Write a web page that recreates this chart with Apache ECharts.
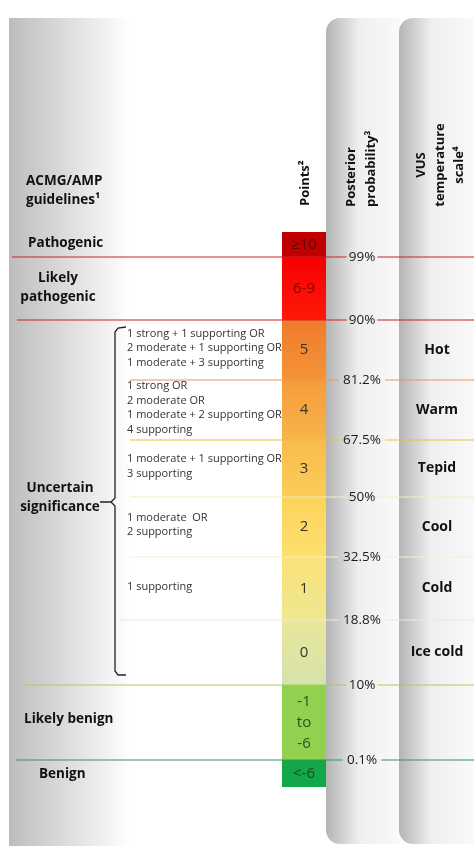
<!DOCTYPE html>
<html>
<head>
<meta charset="utf-8" />
<script src="https://cdn.jsdelivr.net/npm/echarts@6/dist/echarts.min.js"></script>
<style>html,body{margin:0;padding:0;background:#fff}</style>
</head>
<body>
<div id="divChart" style="width:474px;height:846px;"></div>
<script>
// points bands, top to bottom
let bandLabels = ['≥10', '6-9', '5', '4', '3', '2', '1', '0', '-1\nto\n-6', '<-6'];
let bandHeights = [25, 63, 60, 60, 57, 60, 63, 65, 75, 27];
let bandTop = ['#c00000', '#f50000', '#ef7a2e', '#f59b3c', '#f9bb4c', '#fcd35c', '#fbe27a', '#e8e79a', '#92d050', '#12a84a'];
let bandBottom = ['#c00000', '#ff1a0a', '#f59437', '#f8b449', '#fbcd58', '#fde06e', '#eee792', '#d6e2ac', '#92d050', '#12a84a'];
let bandText = ['#5c0000', '#8a0000', '#333', '#333', '#333', '#333', '#333', '#333', '#1c5a1c', '#1c4a1c'];
// posterior probability at the bottom edge of each band
let probLabels = ['99%', '90%', '81.2%', '67.5%', '50%', '32.5%', '18.8%', '10%', '0.1%'];
let lineColors = ['#d42020', '#d42020', '#e9955a', '#e4c43c', '#f1eec4', '#f3f0d0', '#e6eed2', '#a6d060', '#2f9a5a'];
let lineStart = [12, 17, 130, 130, 130, 130, 120, 23, 16];
let vusLabels = ['Hot', 'Warm', 'Tepid', 'Cool', 'Cold', 'Ice cold'];
let criteria = [
  '', '',
  '1 strong + 1 supporting OR\n2 moderate + 1 supporting OR\n1 moderate + 3 supporting',
  '1 strong OR\n2 moderate OR\n1 moderate + 2 supporting OR\n4 supporting',
  '1 moderate + 1 supporting OR\n3 supporting',
  '1 moderate  OR\n2 supporting',
  '1 supporting',
  '', '', ''
];

let total = bandHeights.reduce((a, b) => a + b, 0);
let chart = echarts.init(document.getElementById('divChart'));
let font = '"Open Sans", Calibri, sans-serif';

let series = bandLabels.map(function (lab, i) {
  return {
    type: 'bar', stack: 'p', barWidth: '100%', silent: true,
    data: [bandHeights[i]],
    itemStyle: {
      color: { type: 'linear', x: 0, y: 0, x2: 0, y2: 1,
        colorStops: [{ offset: 0, color: bandTop[i] }, { offset: 1, color: bandBottom[i] }] }
    },
    label: { show: true, position: 'inside', formatter: lab, color: bandText[i],
      fontSize: 15, fontFamily: font, lineHeight: 21 }
  };
});

chart.setOption({
  animation: false,
  grid: { left: 282, width: 44, top: 232, height: 555 },
  xAxis: { type: 'category', data: ['Points'], show: false },
  yAxis: { type: 'value', min: 0, max: total, inverse: true, show: false },
  series: series
});

function py(v) { return chart.convertToPixel({ yAxisIndex: 0 }, v); }
let cum = [0];
bandHeights.forEach(function (h, i) { cum.push(cum[i] + h); });

let g = [];
function grad(stops) {
  return { type: 'linear', x: 0, y: 0, x2: 1, y2: 0, colorStops: stops };
}
// background columns
g.push({ type: 'rect', z: -10, shape: { x: 9, y: 18, width: 320, height: 828 },
  style: { fill: grad([{ offset: 0, color: '#bdbdbd' }, { offset: 0.38, color: '#ffffff' }, { offset: 1, color: '#ffffff' }]) } });
g.push({ type: 'rect', z: -9, shape: { x: 326, y: 18, width: 74, height: 826, r: [14, 0, 0, 14] },
  style: { fill: grad([{ offset: 0, color: '#b4b4b4' }, { offset: 0.45, color: '#efefef' }, { offset: 1, color: '#fafafa' }]) } });
g.push({ type: 'rect', z: -8, shape: { x: 399, y: 18, width: 80, height: 826, r: [14, 0, 0, 14] },
  style: { fill: grad([{ offset: 0, color: '#b4b4b4' }, { offset: 0.4, color: '#efefef' }, { offset: 1, color: '#fafafa' }]) } });

// boundary lines and posterior probability labels
probLabels.forEach(function (p, i) {
  let y = py(cum[i + 1]);
  let w = p.length * 7.6;
  g.push({ type: 'line', z: 5, shape: { x1: lineStart[i], y1: y, x2: 362 - w / 2 - 4, y2: y },
    style: { stroke: lineColors[i], lineWidth: 1.2 } });
  g.push({ type: 'line', z: 5, shape: { x1: 362 + w / 2 + 4, y1: y, x2: 474, y2: y },
    style: { stroke: lineColors[i], lineWidth: 1.2 } });
  g.push({ type: 'text', z: 6, x: 362, y: y, style: { text: p, fill: '#1a1a1a', fontSize: 13.5,
    fontFamily: font, align: 'center', verticalAlign: 'middle' } });
});

// VUS temperature labels (bands 2..7)
vusLabels.forEach(function (v, i) {
  let y = py(cum[i + 2] + bandHeights[i + 2] / 2);
  g.push({ type: 'text', z: 6, x: 437, y: y, style: { text: v, fill: '#111', fontSize: 14,
    fontWeight: 'bold', fontFamily: font, align: 'center', verticalAlign: 'middle' } });
});

// criteria descriptions
criteria.forEach(function (c, i) {
  if (!c) return;
  let y = py(cum[i] + bandHeights[i] / 2);
  g.push({ type: 'text', z: 6, x: 127, y: y - 2, style: { text: c, fill: '#333', fontSize: 11,
    lineHeight: 14.5, fontFamily: font, align: 'left', verticalAlign: 'middle' } });
});

// left category labels
let boldText = function (t, x, y, align) {
  g.push({ type: 'text', z: 6, x: x, y: y, style: { text: t, fill: '#111', fontSize: 13.5,
    fontWeight: 'bold', fontFamily: font, lineHeight: 19, align: align || 'left', verticalAlign: 'middle' } });
};
boldText('ACMG/AMP\nguidelines¹', 26, 191);
boldText('Pathogenic', 28, py(cum[0] + 12) - 1);
boldText('Likely\npathogenic', 58, py(cum[1] + bandHeights[1] / 2) - 1, 'center');
boldText('Uncertain\nsignificance', 60, 498, 'center');
boldText('Likely benign', 24, py(cum[8] + bandHeights[8] / 2) - 3);
boldText('Benign', 39, py(cum[9] + bandHeights[9] / 2) + 1);

// brace
g.push({ type: 'polyline', z: 6, shape: { points: [[126, 327], [118, 328], [115, 332], [115, 498], [111, 502], [100, 502], [111, 502], [115, 506], [115, 671], [118, 675], [126, 675]] },
  style: { stroke: '#222', lineWidth: 1.3, fill: null } });

// rotated headers
g.push({ type: 'text', z: 6, x: 305, y: 206, rotation: Math.PI / 2, style: { text: 'Points²', fill: '#111',
  fontSize: 13, fontWeight: 'bold', fontFamily: font, align: 'left', verticalAlign: 'middle' } });
g.push({ type: 'text', z: 6, x: 361, y: 207, rotation: Math.PI / 2, style: { text: 'Posterior\nprobability³', fill: '#111',
  fontSize: 13, fontWeight: 'bold', fontFamily: font, lineHeight: 20, align: 'left', verticalAlign: 'middle' } });
g.push({ type: 'text', z: 6, x: 440, y: 165, rotation: Math.PI / 2, style: { text: 'VUS\ntemperature\nscale⁴', fill: '#111',
  fontSize: 13, fontWeight: 'bold', fontFamily: font, lineHeight: 19, align: 'center', verticalAlign: 'middle' } });

chart.setOption({ graphic: g });
</script>
</body>
</html>
